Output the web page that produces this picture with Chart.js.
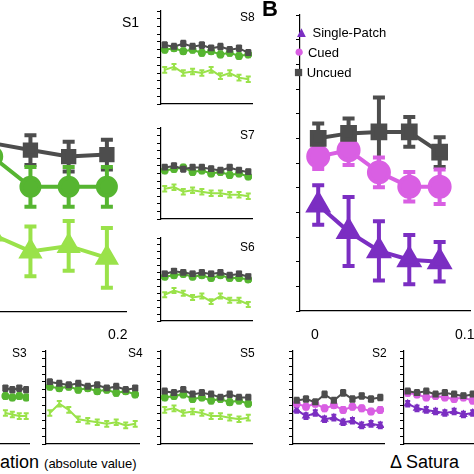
<!DOCTYPE html>
<html><head><meta charset="utf-8">
<script src="https://cdn.jsdelivr.net/npm/chart.js@4"></script>
<style>
body{margin:0;width:474px;height:474px;overflow:hidden;position:relative;background:#fff;font-family:Arial,"Liberation Sans",sans-serif}
.p{position:absolute}
.t{position:absolute;font-size:13px;color:#000}
</style></head><body>
<script>
// --- DATA ---
const xMain = [0.05, 0.1, 0.15, 0.2];
const mainGray = [0.74, 0.726, 0.713, 0.717];
const mainGreen = [0.713, 0.652, 0.652, 0.652];
const mainLight = [0.556, 0.522, 0.533, 0.509];
const mainErr = [[0.03, 0.03, 0.03, 0.03], [0.045, 0.04, 0.04, 0.04], [0.05, 0.05, 0.05, 0.06]];

const xB = [0, 0.025, 0.05, 0.075, 0.1];
const bGray = [0.75, 0.76, 0.763, 0.763, 0.722];
const bMag = [0.713, 0.726, 0.681, 0.652, 0.652];
const bPur = [0.615, 0.561, 0.522, 0.504, 0.5];
const bErr = [[0.03, 0.03, 0.07, 0.03, 0.03], [0.025, 0.03, 0.03, 0.03, 0.035], [0.04, 0.07, 0.06, 0.05, 0.04]];

const xSmall = [0, 0.025, 0.05, 0.075, 0.1, 0.125, 0.15, 0.175, 0.2, 0.225];
const s8 = [[0.78, 0.77, 0.79, 0.77, 0.78, 0.76, 0.77, 0.75, 0.76, 0.73],
            [0.75, 0.76, 0.74, 0.75, 0.73, 0.74, 0.72, 0.73, 0.71, 0.72],
            [0.62, 0.64, 0.6, 0.61, 0.6, 0.62, 0.58, 0.6, 0.57, 0.56]];
const s7 = [[0.74, 0.75, 0.73, 0.74, 0.74, 0.73, 0.72, 0.74, 0.72, 0.71],
            [0.72, 0.73, 0.74, 0.71, 0.72, 0.7, 0.71, 0.69, 0.7, 0.68],
            [0.6, 0.61, 0.58, 0.59, 0.58, 0.57, 0.57, 0.56, 0.56, 0.55]];
const s6 = [[0.74, 0.76, 0.75, 0.74, 0.75, 0.74, 0.75, 0.73, 0.74, 0.72],
            [0.72, 0.73, 0.74, 0.72, 0.73, 0.71, 0.73, 0.71, 0.71, 0.7],
            [0.59, 0.62, 0.6, 0.57, 0.58, 0.54, 0.58, 0.55, 0.55, 0.52]];
const s5 = [[0.74, 0.73, 0.75, 0.72, 0.73, 0.72, 0.7, 0.72, 0.7, 0.7],
            [0.7, 0.71, 0.72, 0.69, 0.7, 0.68, 0.69, 0.67, 0.68, 0.66],
            [0.62, 0.63, 0.6, 0.61, 0.6, 0.58, 0.58, 0.57, 0.56, 0.57]];
const s4 = [[0.8, 0.79, 0.78, 0.79, 0.77, 0.78, 0.76, 0.77, 0.75, 0.76],
            [0.77, 0.76, 0.77, 0.75, 0.76, 0.74, 0.75, 0.73, 0.74, 0.72],
            [0.6, 0.66, 0.62, 0.56, 0.55, 0.54, 0.53, 0.54, 0.52, 0.53]];
const s3 = [[0.76, 0.75, 0.76, 0.75],
            [0.71, 0.7, 0.71, 0.7],
            [0.6, 0.59, 0.58, 0.58]];
const s2 = [[0.68, 0.69, 0.67, 0.72, 0.68, 0.73, 0.69, 0.71, 0.69, 0.7],
            [0.66, 0.64, 0.66, 0.63, 0.65, 0.62, 0.64, 0.63, 0.61, 0.62],
            [0.62, 0.58, 0.6, 0.56, 0.57, 0.54, 0.55, 0.52, 0.53, 0.52]];
const s9 = [[0.74, 0.73, 0.74, 0.72, 0.73, 0.72, 0.71, 0.72, 0.71, 0.7],
            [0.73, 0.72, 0.7, 0.71, 0.7, 0.69, 0.7, 0.68, 0.69, 0.68],
            [0.66, 0.63, 0.62, 0.61, 0.6, 0.61, 0.59, 0.6, 0.59, 0.58]];

const GRAY = '#4d4d4d', GREEN = '#56b531', LIGHT = '#9ae24a', MAG = '#d95fe3', PUR = '#7b2ec2';

const errPlugin = {
  id: 'err',
  beforeDatasetsDraw(chart) {
    const ctx = chart.ctx, y = chart.scales.y;
    chart.data.datasets.forEach((ds, i) => {
      const meta = chart.getDatasetMeta(i);
      ctx.save();
      ctx.strokeStyle = ds.borderColor;
      ctx.lineWidth = ds.errW || 1.5;
      meta.data.forEach((pt, j) => {
        const v = ds.data[j].y, e = ds.errs[j];
        const y1 = y.getPixelForValue(v - e), y2 = y.getPixelForValue(v + e);
        const c = ds.cap || 3;
        ctx.beginPath();
        ctx.moveTo(pt.x, y1); ctx.lineTo(pt.x, y2);
        ctx.moveTo(pt.x - c, y1); ctx.lineTo(pt.x + c, y1);
        ctx.moveTo(pt.x - c, y2); ctx.lineTo(pt.x + c, y2);
        ctx.stroke();
      });
      ctx.restore();
    });
  }
};

function ds(xs, ys, errs, color, style, r, lw, cap) {
  return {
    data: xs.map((x, i) => ({ x: x, y: ys[i] })),
    errs: errs, borderColor: color, backgroundColor: color,
    pointStyle: style, pointRadius: r, borderWidth: lw, errW: lw, cap: cap
  };
}

function panel(left, top, w, h, datasets, xmin, xmax, opts = {}) {
  const d = document.createElement('div');
  d.className = 'p';
  Object.assign(d.style, { left: left + 'px', top: top + 'px', width: w + 'px', height: h + 'px' });
  const c = document.createElement('canvas');
  d.appendChild(c);
  document.body.appendChild(d);
  new Chart(c, {
    type: 'line',
    data: { datasets: datasets },
    options: {
      responsive: true, maintainAspectRatio: false, animation: false,
      layout: { padding: 0 },
      plugins: { legend: { display: false }, tooltip: { enabled: false } },
      scales: {
        x: { type: 'linear', min: xmin, max: xmax,
             grid: { display: false, drawTicks: false },
             border: { display: opts.xBorder !== false, color: '#000', width: 1.2 },
             ticks: { display: false } },
        y: { min: 0.4, max: 1.0,
             grid: { display: !!opts.yTicks, drawOnChartArea: false, tickLength: 4, color: '#000' },
             border: { display: opts.yBorder !== false, color: '#000', width: 1.2 },
             ticks: { display: false, stepSize: 0.05 } }
      }
    },
    plugins: [errPlugin]
  });
}

function small(left, top, w, h, arr, xs, c1, c2, c3, yTicks, triangle) {
  const e = xs.map(() => 0.018);
  panel(left, top, w, h, [
    ds(xs, arr[0], e, c1, 'rect', 3, 2, 2.5),
    ds(xs, arr[1], e, c2, 'circle', 3, 2, 2.5),
    ds(xs, arr[2], e, c3, triangle ? 'triangle' : 'line', triangle ? 3 : 0, 2, 2.5)
  ], -0.01, 0.235, { yTicks: yTicks });
}

// main left (S1)
panel(-60, 0, 200, 326, [
  ds(xMain, mainGray, mainErr[0], GRAY, 'rect', 8, 4, 6),
  ds(xMain, mainGreen, mainErr[1], GREEN, 'circle', 9, 4, 6),
  ds(xMain, mainLight, mainErr[2], LIGHT, 'triangle', 10, 4, 6)
], 0.0, 0.225, { yBorder: false });

// right B
panel(285, 0, 200, 326, [
  ds(xB, bGray, bErr[0], GRAY, 'rect', 9, 4, 6),
  ds(xB, bMag, bErr[1], MAG, 'circle', 10, 4, 6),
  ds(xB, bPur, bErr[2], PUR, 'triangle', 11, 4, 6)
], -0.015, 0.125, { yTicks: true });

small(155, 5, 103, 105, s8, xSmall, GRAY, GREEN, LIGHT, true);
small(155, 122, 103, 103, s7, xSmall, GRAY, GREEN, LIGHT, true);
small(155, 232, 103, 95, s6, xSmall, GRAY, GREEN, LIGHT, true);
small(155, 345, 103, 105, s5, xSmall, GRAY, GREEN, LIGHT, true);
small(40, 345, 105, 105, s4, xSmall, GRAY, GREEN, LIGHT, true);
small(-45, 345, 80, 105, s3, [0.15, 0.175, 0.2, 0.225], GRAY, GREEN, LIGHT, false);
small(287, 345, 103, 105, s2, xSmall, GRAY, MAG, PUR, true, true);
small(398, 345, 103, 105, s9, xSmall, GRAY, MAG, PUR, true, true);

// text
const texts = [
  ['S1', 122, 14, 14], ['S8', 240, 10, 12], ['S7', 240, 128, 12], ['S6', 240, 240, 12],
  ['S3', 12, 346, 12], ['S4', 128, 346, 12], ['S5', 240, 346, 12], ['S2', 372, 346, 12],
  ['0.2', 108, 326, 14], ['0', 311, 326, 14], ['0.1', 455, 326, 14]
];
texts.forEach(t => {
  const s = document.createElement('div');
  s.className = 't';
  s.textContent = t[0];
  Object.assign(s.style, { left: t[1] + 'px', top: t[2] + 'px', fontSize: t[3] + 'px' });
  document.body.appendChild(s);
});
</script>
<div class="t" style="left:262px;top:-4px;font-size:22px;font-weight:bold">B</div>
<div class="t" style="left:0;top:452px;font-size:18px">ation <span style="font-size:13px">(absolute value)</span></div>
<div class="t" style="left:390px;top:452px;font-size:18px">Δ Satura</div>
<div class="t" style="left:294px;top:22px;font-size:13px;line-height:19px">
<div><span style="color:#7b2ec2;font-size:15px">▲</span> Single-Patch</div>
<div><span style="color:#d95fe3;font-size:17px">●</span> Cued</div>
<div><span style="color:#4d4d4d;font-size:15px">■</span> Uncued</div>
</div>
</body></html>
